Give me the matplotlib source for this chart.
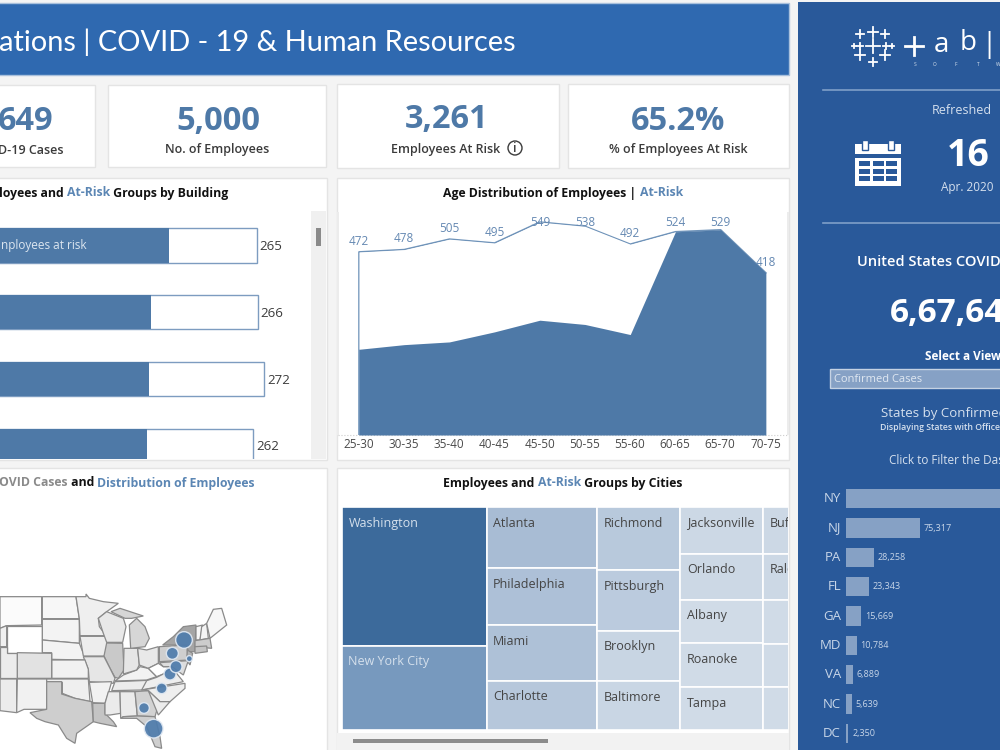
import matplotlib
matplotlib.use("Agg")
import matplotlib.pyplot as plt
from matplotlib.patches import Rectangle, Polygon, Circle
from matplotlib.colors import LinearSegmentedColormap, Normalize

plt.rcParams['font.family'] = ['Open Sans', 'DejaVu Sans']

# ---------- data ----------
buildings_total = [265, 266, 272, 262]
buildings_risk = [184, 168, 166, 164]

age_groups = ['25-30','30-35','35-40','40-45','45-50','50-55','55-60','60-65','65-70','70-75']
age_total = [472, 478, 505, 495, 549, 538, 492, 524, 529, 418]
age_risk = [221, 233, 240, 266, 296, 285, 259, 524, 529, 418]

state_codes = ['NY','NJ','PA','FL','GA','MD','VA','NC','DC']
state_cases = [214648, 75317, 28258, 23343, 15669, 10784, 6889, 5639, 2350]
state_labels = ['', '75,317', '28,258', '23,343', '15,669', '10,784', '6,889', '5,639', '2,350']

city_columns = [
    [('Washington', 1000), ('New York City', 610)],
    [('Atlanta', 338), ('Philadelphia', 314), ('Miami', 307), ('Charlotte', 273)],
    [('Richmond', 263), ('Pittsburgh', 250), ('Brooklyn', 208), ('Baltimore', 203)],
    [('Jacksonville', 193), ('Orlando', 191), ('Albany', 181), ('Roanoke', 181), ('Tampa', 178)],
    [('Buffalo', 193), ('Raleigh', 193), ('', 180), ('', 179), ('', 179)],
]

# map outlines
states = {
 'MT': ([(0,380),(125,380),(125,465),(20,467),(0,475)], '#fbfbfb'),
 'ID': ([(0,475),(20,467),(20,530),(0,530)], '#f0f0f0'),
 'WY': ([(20,467),(125,467),(125,548),(20,548)], '#ffffff'),
 'UT': ([(0,530),(20,530),(20,548),(50,548),(50,625),(0,625)], '#ececec'),
 'AZ': ([(0,627),(50,627),(50,728),(0,722)], '#ececec'),
 'ND': ([(127,380),(228,380),(238,446),(127,446)], '#f7f7f7'),
 'SD': ([(127,448),(238,448),(238,520),(127,510)], '#f3f3f3'),
 'NE': ([(127,510),(238,520),(250,550),(255,570),(155,568),(155,548),(127,548)], '#f3f3f3'),
 'MN': ([(228,380),(258,380),(258,372),(268,385),(310,395),(355,400),(320,425),(295,445),(298,470),(318,497),(240,497),(238,446)], '#efefef'),
 'IA': ([(240,499),(318,499),(330,525),(318,550),(312,558),(250,558)], '#ededed'),
 'WI': ([(295,445),(320,425),(345,435),(370,445),(378,470),(368,517),(320,517),(310,490)], '#e8e8e8'),
 'IL': ([(320,519),(368,520),(372,600),(355,625),(345,622),(330,595),(312,558)], '#c9c9c9'),
 'MO': ([(250,560),(312,560),(330,595),(345,625),(340,640),(268,635),(265,598)], '#e6e6e6'),
 'KS': ([(155,570),(255,570),(265,598),(265,625),(155,625)], '#f1f1f1'),
 'CO': ([(52,548),(155,550),(155,625),(52,625)], '#e2e2e2'),
 'NM': ([(52,627),(140,627),(140,718),(72,718),(50,728)], '#f1f1f1'),
 'OK': ([(187,627),(265,627),(270,695),(225,685),(187,670),(187,637),(140,635),(140,627)], '#efefef'),
 'TX': ([(140,635),(185,635),(185,672),(225,685),(275,695),(280,755),(230,790),(225,820),(200,805),(175,765),(135,755),(110,745),(90,728),(140,718)], '#cecece'),
 'AR': ([(268,637),(335,635),(325,670),(315,700),(278,698)], '#f2f2f2'),
 'LA': ([(278,700),(315,700),(315,730),(340,755),(350,770),(300,760),(280,755)], '#c4c4c4'),
 'MS': ([(325,665),(360,665),(362,730),(330,735),(315,735),(315,700)], '#ebebeb'),
 'AL': ([(360,665),(405,665),(412,738),(370,740),(362,745)], '#ebebeb'),
 'GA': ([(405,665),(445,662),(475,705),(465,740),(412,738)], '#d2d2d2'),
 'FL': ([(362,745),(370,740),(412,738),(465,740),(480,800),(485,835),(465,830),(440,770),(410,745)], '#cfcfcf'),
 'TN': ([(335,662),(345,635),(470,630),(425,660)], '#ececec'),
 'KY': ([(345,633),(370,615),(410,600),(420,590),(445,595),(470,620),(440,630)], '#f2f2f2'),
 'IN': ([(372,535),(413,535),(418,585),(410,600),(370,612)], '#e6e6e6'),
 'OH': ([(413,535),(440,540),(475,530),(475,580),(445,595),(418,585)], '#e9e9e9'),
 'MI': ([(388,465),(410,445),(435,470),(448,505),(435,530),(392,535)], '#d6d6d6'),
 'UP': ([(333,425),(360,415),(430,438),(395,445),(375,445)], '#d6d6d6'),
 'WV': ([(445,595),(475,580),(490,590),(515,590),(490,612),(470,620)], '#ffffff'),
 'VA': ([(425,660),(440,632),(470,622),(490,612),(515,592),(550,635)], '#eeeeee'),
 'NC': ([(425,660),(555,640),(555,655),(510,695),(480,695),(445,662)], '#eeeeee'),
 'SC': ([(445,662),(480,695),(510,695),(475,735)], '#ececec'),
 'PA': ([(478,530),(560,525),(565,570),(478,575)], '#cfcfcf'),
 'NY': ([(488,525),(520,500),(550,470),(588,465),(585,545),(565,545),(560,525)], '#a5a5a5'),
 'MD': ([(478,578),(565,572),(550,615),(515,590),(490,590)], '#dddddd'),
 'NJ': ([(562,540),(578,550),(570,585),(560,570)], '#b5b5b5'),
 'VT': ([(588,470),(608,465),(600,510),(588,510)], '#f7f7f7'),
 'NH': ([(605,470),(620,460),(625,505),(600,510)], '#f4f4f4'),
 'ME': ([(620,460),(640,418),(665,415),(680,465),(630,505)], '#f7f7f7'),
 'MA': ([(585,512),(630,505),(635,535),(585,530)], '#cccccc'),
 'CT': ([(585,530),(620,528),(622,545),(585,550)], '#c4c4c4'),
}
bubble_x = [461, 432, 485, 510, 528, 517, 552, 568]
bubble_y = [776, 714, 655, 612, 590, 550, 510, 566]
bubble_r = [28, 16, 16, 18, 18, 18, 25, 9]

soft_letters = ['S', 'O', 'F', 'T', 'W']

# ---------- colours ----------
PAGE = '#f4f4f4'; EDGE = '#e4e4e4'; HEAD = '#2f69b0'; SIDE = '#29599a'
BLUE = '#4e79a7'; TXT = '#3b3b3b'; LINK = '#5b86b4'; BAR = '#86a1c5'; PALE = '#d5e0ee'

fig = plt.figure(figsize=(10, 7.5), dpi=100, facecolor=PAGE)

def px_axes(x0, y0, x1, y1, z=1):
    a = fig.add_axes([x0/1000, 1-y1/750, (x1-x0)/1000, (y1-y0)/750], zorder=z)
    a.patch.set_alpha(0)
    a.axis('off')
    return a

bg = px_axes(0, 0, 1000, 750, 0)
bg.set_xlim(0, 1000); bg.set_ylim(750, 0)
over = px_axes(0, 0, 1000, 750, 5)
over.set_xlim(0, 1000); over.set_ylim(750, 0)

def box(x0, y0, x1, y1, fc='white', ec=EDGE, lw=1, a=bg, **k):
    a.add_patch(Rectangle((x0, y0), x1-x0, y1-y0, fc=fc, ec=ec, lw=lw, **k))

box(-5, 3, 789, 75, fc=HEAD, ec='#a9c0dc')
box(798, 2, 1005, 755, fc=SIDE, ec='none')
for c in [(-5, 85, 95, 167), (108, 85, 326, 167), (337, 84, 559, 168), (568, 84, 789, 168),
          (-5, 178, 327, 460), (337, 178, 789, 460), (-5, 468, 327, 755), (337, 468, 789, 755)]:
    box(*c)

def segs(x, y, parts, size, weight='bold', center=False):
    """Write coloured pieces one after another on one baseline."""
    r = fig.canvas.get_renderer()
    ts = [over.text(0, y + 4.5, s, color=c, fontsize=size, fontweight=weight, va='baseline', ha='left') for s, c in parts]
    ws = [t.get_window_extent(r).width for t in ts]
    cur = x - sum(ws)/2 if center else x
    for t, w in zip(ts, ws):
        t.set_x(cur)
        cur += w

def T(x, y, s, size, c=TXT, ha='center', weight='normal', **k):
    return over.text(x, y + 4, s, fontsize=size, color=c, ha=ha, va='center', fontweight=weight, **k)

# ---------- header and KPI ----------
T(-1, 38, 'ations | COVID - 19 & Human Resources', 20.9, 'white', ha='left', family=['Lato', 'DejaVu Sans'])
T(-2, 118, '649', 23.5, BLUE, ha='left', weight='bold')
T(-2, 146, 'D-19 Cases', 9, TXT, ha='left', weight='semibold')
T(218, 118, '5,000', 23.5, BLUE, weight='bold')
T(217, 146, 'No. of Employees', 9, TXT, weight='semibold')
T(447, 116, '3,261', 23.5, BLUE, weight='bold')
T(446, 146, 'Employees At Risk', 9, TXT, weight='semibold')
over.add_patch(Circle((515, 148), 7, fc='none', ec=TXT, lw=1))
T(515, 144, 'i', 9, TXT, weight='semibold')
T(678, 117, '65.2%', 23.5, BLUE, weight='bold')
T(678, 146, '% of Employees At Risk', 9, TXT, weight='semibold')

# ---------- building bars ----------
ax = px_axes(0, 211, 311, 459)
xs = list(range(len(buildings_total)))
ax.barh(xs, buildings_total, height=0.51, fc='white', ec='#7d9cc0', lw=1)
ax.barh(xs, buildings_risk, height=0.51, fc=BLUE, ec='none')
ax.set_xlim(28.5, 315)
ax.set_ylim(3.196, -0.516)
for i, v in zip(xs, buildings_total):
    ax.annotate(str(v), (v, i), xytext=(3, -1), textcoords='offset pixels',
                fontsize=9.5, color=TXT, va='center', ha='left')
ax.text(29, 0, 'nployees at risk', fontsize=8.5, color='#dce6f0', va='center', ha='left')
box(311, 211, 326, 459, fc='#f0f0f0', ec='none')
box(316, 228, 321, 246, fc='#8a8a8a', ec='none')
segs(-1, 192, [('loyees and ', '#111111'), ('At-Risk', LINK), (' Groups by Building', '#111111')], 8.8)

# ---------- age area ----------
ax = px_axes(338, 212, 788, 435)
pos = list(range(len(age_groups)))
ax.fill_between(pos, age_risk, age_total, color='white', lw=0)
ax.plot([0] + pos, [0] + age_total, color='#6f93b9', lw=1.2, zorder=0.5)
ax.fill_between(pos, 0, age_risk, color=BLUE, lw=0, zorder=1)
ax.set_xlim(-0.465, 9.49)
ax.set_ylim(0, 575)
for p, v in zip(pos, age_total):
    ax.text(p, min(v + 28, 549), str(v), fontsize=8.5, color='#6488b2', ha='center', va='center')
bg.plot([338, 788], [435, 435], color='#cccccc', lw=0.8, ls=':')
for p, g in zip(pos, age_groups):
    T(359 + 45.15 * p, 441, g, 8.5, '#4a4a4a')
box(337, 212, 339, 435, fc='#ececec', ec='none')
box(787, 212, 789, 435, fc='#ececec', ec='none')
segs(563, 192, [('Age Distribution of Employees | ', '#111111'), ('At-Risk', LINK)], 8.8, center=True)

# ---------- map ----------
ax = px_axes(0, 470, 330, 750)
ax.set_xlim(0, 990); ax.set_ylim(840, 0)
for pts, shade in states.values():
    ax.add_patch(Polygon(pts, closed=True, fc=shade, ec='#8a8a8a', lw=0.9))
for x, y, r in zip(bubble_x, bubble_y, bubble_r):
    ax.add_patch(Circle((x, y), r, fc='#4f7cac', ec='#dfe8f2', lw=1, alpha=0.93))
segs(-1, 482, [('OVID Cases', '#8a8a8a'), (' and ', '#111111'), ('Distribution of Employees', LINK)], 8.8)

# ---------- treemap ----------
ax = px_axes(342, 507, 788, 730)
cmap = LinearSegmentedColormap.from_list('t', [(0, '#d0dbe7'), (0.1, '#b8c9dc'), (0.195, '#a8bcd4'),
                                              (0.525, '#7799be'), (1, '#3c6a9b')])
norm = Normalize(178, 1000)
H = 222.6
ax.set_xlim(0, 446); ax.set_ylim(H, 0)
x = 0
for col in city_columns:
    tot = sum(v for _, v in col)
    w = tot / H * 20
    y = 0
    for name, v in col:
        h = v / tot * H
        ax.add_patch(Rectangle((x, y), w, h, fc=cmap(norm(v)), ec='white', lw=1.2, clip_on=True))
        if name:
            ax.text(x + 6.5, y + 16, name, fontsize=9, va='center', ha='left', clip_on=True,
                    color='#d5e0ec' if v > 500 else '#444444')
        y += h
    x += w
box(337, 733, 789, 755, fc='#f2f2f2', ec='none')
box(353, 739, 548, 743, fc='#8c8c8c', ec='none')
segs(563, 482, [('Employees and ', '#111111'), ('At-Risk', LINK), (' Groups by Cities', '#111111')], 8.8, center=True)

# ---------- side panel ----------
for y0 in (90, 223):
    bg.plot([823, 1005], [y0, y0], color='#7f9fc8', lw=1.2)
for px0, py0, s in [(873,32,5),(860,34,4),(885,34,4),(873,46,7),(860,46,3),(886,46,3),(854,46,2),(892,46,2),
                    (860,55,5),(885,55,5),(873,62,4)]:
    over.plot([px0-s, px0+s], [py0, py0], color='white', lw=1.3)
    over.plot([px0, px0], [py0-s, py0+s], color='white', lw=1.3)
over.plot([905, 923], [46, 46], color='white', lw=2)
over.plot([914, 914], [37, 55], color='white', lw=2)
T(941, 41, 'a', 20, 'white')
T(968, 39, 'b', 20, 'white')
T(989, 41, '|', 20, 'white')
for lx, letter in zip([915, 935, 956, 978, 998], soft_letters):
    T(lx, 61, letter, 3.5, '#dce6f0')
T(962, 107, 'Refreshed', 9, PALE)
T(968, 152, '16', 27, 'white', weight='bold')
T(967, 183, 'Apr. 2020', 8.5, PALE)
# calendar icon
box(855, 144, 901, 186, fc='white', ec='none', a=over)
box(855, 154, 901, 158, fc=SIDE, ec='none', a=over)
for r in range(3):
    for c in range(3):
        box(859 + c*13.7, 161 + r*7.5, 870 + c*13.7, 166 + r*7.5, fc=SIDE, ec='none', a=over)
for cx in (865, 891):
    box(cx-3, 140, cx+3, 150, fc='white', ec=SIDE, lw=1, a=over)
T(857, 258, 'United States COVID', 10.5, 'white', ha='left', weight='semibold')
T(890, 309, '6,67,64', 24, 'white', ha='left', weight='bold')
T(925, 352, 'Select a View', 8.5, 'white', ha='left', weight='bold')
box(830, 369, 1006, 388, fc=BAR, ec='#c5d2e3', a=over)
T(834, 375, 'Confirmed Cases', 8, '#e0e8f2', ha='left')
T(881, 410, 'States by Confirmed', 9.5, PALE, ha='left')
T(880, 424, 'Displaying States with Office', 6.3, PALE, ha='left', weight='semibold')
T(889, 456, 'Click to Filter the Dash', 8.5, PALE, ha='left')

ax = px_axes(846, 484, 1000, 748)
ypos = list(range(len(state_codes)))
ax.barh(ypos, state_cases, height=0.65, color=BAR)
ax.set_xlim(0, 157464)
ax.set_ylim(8.5, -0.5)
for yp, code, v, lab in zip(ypos, state_codes, state_cases, state_labels):
    ax.annotate(code, (0, yp), xytext=(-5, 0), textcoords='offset pixels', ha='right', va='center',
                fontsize=9.5, color='#c8d6e8', annotation_clip=False)
    if lab:
        ax.annotate(lab, (v, yp), xytext=(4, 0), textcoords='offset pixels', ha='left', va='center',
                    fontsize=6.5, color='#c8d6e8')

fig.savefig('out.png', dpi=100, facecolor=PAGE)
